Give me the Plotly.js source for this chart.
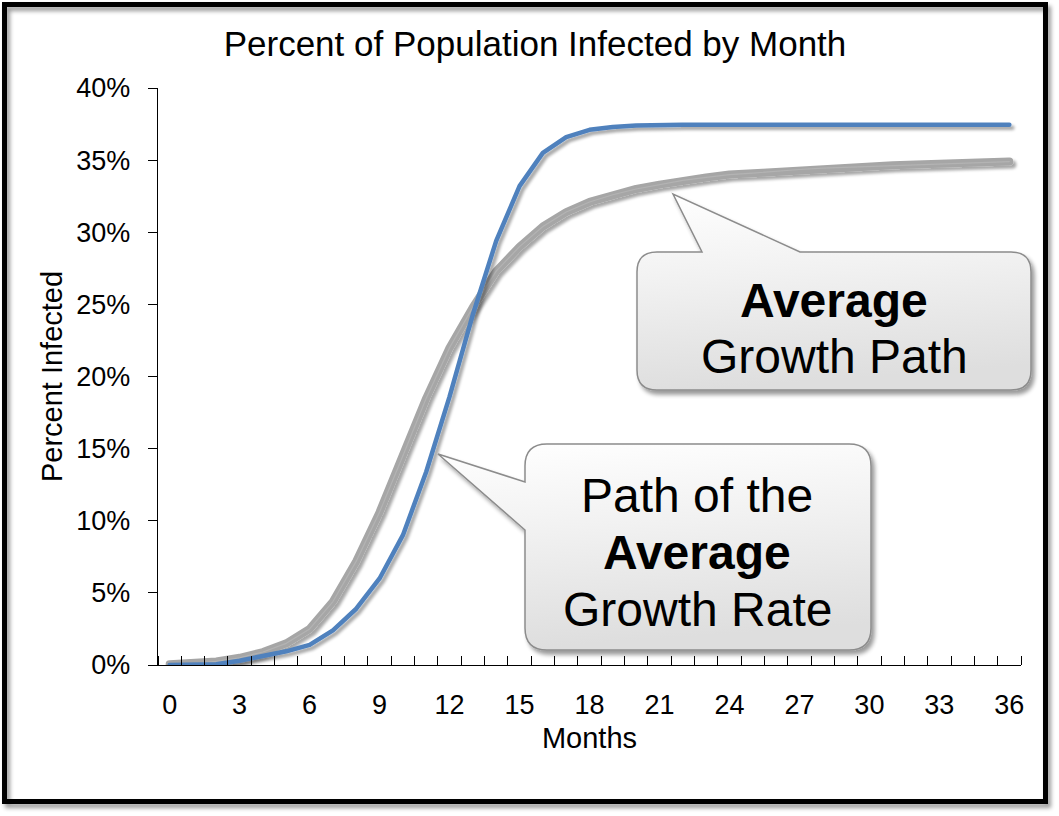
<!DOCTYPE html>
<html>
<head>
<meta charset="utf-8">
<script src="https://cdn.plot.ly/plotly-3.0.1.min.js"></script>
<style>
  html, body { margin: 0; padding: 0; background: #ffffff; }
  #chart { width: 1059px; height: 816px; }
  #chart .js-line { stroke-linecap: round !important; stroke-linejoin: round !important; }
</style>
</head>
<body>
<svg width="0" height="0" style="position:absolute">
  <defs>
    <filter id="lineShadow" x="-5%" y="-5%" width="115%" height="115%">
      <feGaussianBlur in="SourceAlpha" stdDeviation="1.6"/>
      <feOffset dx="2.5" dy="3" result="blur"/>
      <feComponentTransfer><feFuncA type="linear" slope="0.35"/></feComponentTransfer>
      <feMerge><feMergeNode/><feMergeNode in="SourceGraphic"/></feMerge>
    </filter>
    <filter id="boxShadow" x="-5%" y="-5%" width="115%" height="120%">
      <feGaussianBlur in="SourceAlpha" stdDeviation="2"/>
      <feOffset dx="3" dy="4" result="blur"/>
      <feComponentTransfer><feFuncA type="linear" slope="0.4"/></feComponentTransfer>
      <feMerge><feMergeNode/><feMergeNode in="SourceGraphic"/></feMerge>
    </filter>
    <linearGradient id="calloutFill" x1="0" y1="0" x2="0.15" y2="1">
      <stop offset="0" stop-color="#ffffff"/>
      <stop offset="0.45" stop-color="#f1f1f1"/>
      <stop offset="1" stop-color="#dedede"/>
    </linearGradient>
  </defs>
</svg>
<div id="chart"></div>
<script>
// Month index along the x axis
const months = [0, 1, 2, 3, 4, 5, 6, 7, 8, 9, 10, 11, 12, 13, 14, 15, 16, 17, 18,
                19, 20, 21, 22, 23, 24, 25, 26, 27, 28, 29, 30, 31, 32, 33, 34, 35, 36];

// Average growth path (% infected)
const averagePath = [0.05, 0.1, 0.25, 0.5, 0.9, 1.5, 2.5, 4.4, 7.2, 10.6, 14.5, 18.5, 22.0,
                     24.8, 27.3, 29.0, 30.4, 31.4, 32.1, 32.6, 33.0, 33.3, 33.6, 33.8, 34.0,
                     34.1, 34.25, 34.35, 34.45, 34.5, 34.6, 34.65, 34.7, 34.75, 34.8, 34.85, 34.9];

// Path of the average growth rate (% infected)
const averageRatePath = [0.0, 0.0, 0.05, 0.3, 0.6, 0.95, 1.4, 2.4, 3.9, 6.0, 9.0, 13.4, 18.6,
                         24.3, 29.4, 33.2, 35.5, 36.6, 37.1, 37.3, 37.4, 37.45, 37.45, 37.45, 37.45,
                         37.45, 37.45, 37.45, 37.45, 37.45, 37.45, 37.45, 37.45, 37.45, 37.45, 37.45, 37.45];

const xTickVals = [0, 3, 6, 9, 12, 15, 18, 21, 24, 27, 30, 33, 36];
const yTickVals = [0, 5, 10, 15, 20, 25, 30, 35, 40];

const chartTitle = 'Percent of Population Infected by Month';
const xTitle = 'Months';
const yTitle = 'Percent Infected';
const calloutPath = ['<b>Average</b>', 'Growth Path'];
const calloutRate = ['Path of the', '<b>Average</b>', 'Growth Rate'];

const FONT = 'Arial, "Liberation Sans", sans-serif';
const W = 1059, H = 816;
const M = { l: 158, r: 38, t: 88, b: 151 };
const PW = W - M.l - M.r, PH = H - M.t - M.b;

// pixel -> paper coordinates
const px = x => (x - M.l) / PW;
const py = y => (H - M.b - y) / PH;
const P = (x, y) => px(x).toFixed(5) + ',' + py(y).toFixed(5);

function roundedBox(L, T, R, B, r, pointer) {
  // pointer: {side, a, tip, b} along the given side
  let d = 'M' + P(L + r, T);
  if (pointer.side === 'top') {
    d += ' L' + P(pointer.a, T) + ' L' + P(pointer.tip[0], pointer.tip[1]) + ' L' + P(pointer.b, T);
  }
  d += ' L' + P(R - r, T) + ' Q' + P(R, T) + ' ' + P(R, T + r);
  d += ' L' + P(R, B - r) + ' Q' + P(R, B) + ' ' + P(R - r, B);
  d += ' L' + P(L + r, B) + ' Q' + P(L, B) + ' ' + P(L, B - r);
  if (pointer.side === 'left') {
    d += ' L' + P(L, pointer.a) + ' L' + P(pointer.tip[0], pointer.tip[1]) + ' L' + P(L, pointer.b);
  }
  d += ' L' + P(L, T + r) + ' Q' + P(L, T) + ' ' + P(L + r, T) + ' Z';
  return d;
}

const traces = [
  {
    x: months, y: averagePath, type: 'scatter', mode: 'lines',
    line: { color: '#a6a6a6', width: 8 }, name: 'Average Growth Path'
  },
  {
    x: months, y: averagePath, type: 'scatter', mode: 'lines',
    line: { color: '#b3b3b3', width: 1.2 }, name: 'Average Growth Path highlight'
  },
  {
    x: months, y: averageRatePath, type: 'scatter', mode: 'lines',
    line: { color: '#4f81bd', width: 4.5 }, name: 'Path of the Average Growth Rate'
  }
];

const shapes = [
  // outer frame
  {
    type: 'rect', xref: 'paper', yref: 'paper', layer: 'below',
    x0: px(4.5), x1: px(1045.5), y0: py(801.5), y1: py(4.5),
    line: { color: '#000000', width: 5 }, fillcolor: 'rgba(0,0,0,0)'
  },
  // callout: Average Growth Path
  {
    type: 'path', xref: 'paper', yref: 'paper', layer: 'above',
    path: roundedBox(637, 252, 1031, 390, 20, { side: 'top', a: 702, tip: [673, 194], b: 800 }),
    line: { color: '#8c8c8c', width: 1.5 }, fillcolor: '#eeeeee'
  },
  // callout: Path of the Average Growth Rate
  {
    type: 'path', xref: 'paper', yref: 'paper', layer: 'above',
    path: roundedBox(525, 444, 871, 650, 22, { side: 'left', a: 530, tip: [438, 454], b: 482 }),
    line: { color: '#8c8c8c', width: 1.5 }, fillcolor: '#eeeeee'
  }
];

const annFont = { family: FONT, size: 48, color: '#000000' };
const annotations = [];
const pathLinesY = [300, 356];
calloutPath.forEach((t, i) => annotations.push({
  xref: 'paper', yref: 'paper', x: px(834), y: py(pathLinesY[i]),
  text: t, showarrow: false, font: annFont, xanchor: 'center', yanchor: 'middle'
}));
const rateLinesY = [495, 552, 609];
calloutRate.forEach((t, i) => annotations.push({
  xref: 'paper', yref: 'paper', x: px(697), y: py(rateLinesY[i]),
  text: t, showarrow: false, font: annFont, xanchor: 'center', yanchor: 'middle'
}));

const layout = {
  width: W, height: H,
  margin: M,
  paper_bgcolor: '#ffffff', plot_bgcolor: '#ffffff',
  showlegend: false,
  font: { family: FONT, color: '#000000' },
  title: {
    text: chartTitle, font: { family: FONT, size: 35, color: '#000000' },
    xref: 'container', yref: 'container', x: 535 / W, y: 1 - 44 / H,
    xanchor: 'center', yanchor: 'middle'
  },
  xaxis: {
    range: [-0.5, 36.5], tickmode: 'array', tickvals: xTickVals,
    ticktext: xTickVals.map(String),
    ticks: '', showline: true, linecolor: '#000000', linewidth: 1.3,
    showgrid: false, zeroline: false,
    tickfont: { family: FONT, size: 27, color: '#000000' },
    ticklabelstandoff: 15,
    minor: { ticks: 'inside', ticklen: 9, tickcolor: '#000000', tickwidth: 1, tick0: -0.5, dtick: 1, showgrid: false },
    title: { text: xTitle, font: { family: FONT, size: 29, color: '#000000' }, standoff: 9 },
    fixedrange: true
  },
  yaxis: {
    range: [0, 40], tickmode: 'array', tickvals: yTickVals,
    ticktext: yTickVals.map(v => v + '%'),
    ticks: 'outside', ticklen: 9, tickcolor: '#000000', tickwidth: 1,
    showline: true, linecolor: '#000000', linewidth: 1.3,
    showgrid: false, zeroline: false,
    tickfont: { family: FONT, size: 27, color: '#000000' },
    ticklabelstandoff: 12,
    title: { text: yTitle, font: { family: FONT, size: 29, color: '#000000' }, standoff: 5 },
    fixedrange: true
  },
  shapes: shapes,
  annotations: annotations
};

Plotly.newPlot('chart', traces, layout, { staticPlot: true, displayModeBar: false }).then(gd => {
  // soft drop shadows under the lines
  const lineTraces = gd.querySelectorAll('.scatterlayer .trace');
  [0, 2].forEach(i => {
    if (lineTraces[i]) lineTraces[i].style.filter = 'url(#lineShadow)';
  });
  // shaded callout boxes and frame shadow
  gd.querySelectorAll('.shapelayer path').forEach(p => {
    const idx = p.getAttribute('data-index');
    if (idx === '1' || idx === '2') {
      p.style.fill = 'url(#calloutFill)';
      p.style.fillOpacity = '1';
      p.style.filter = 'url(#boxShadow)';
    } else if (idx === '0') {
      p.style.filter = 'url(#boxShadow)';
    }
  });
});
</script>
</body>
</html>
